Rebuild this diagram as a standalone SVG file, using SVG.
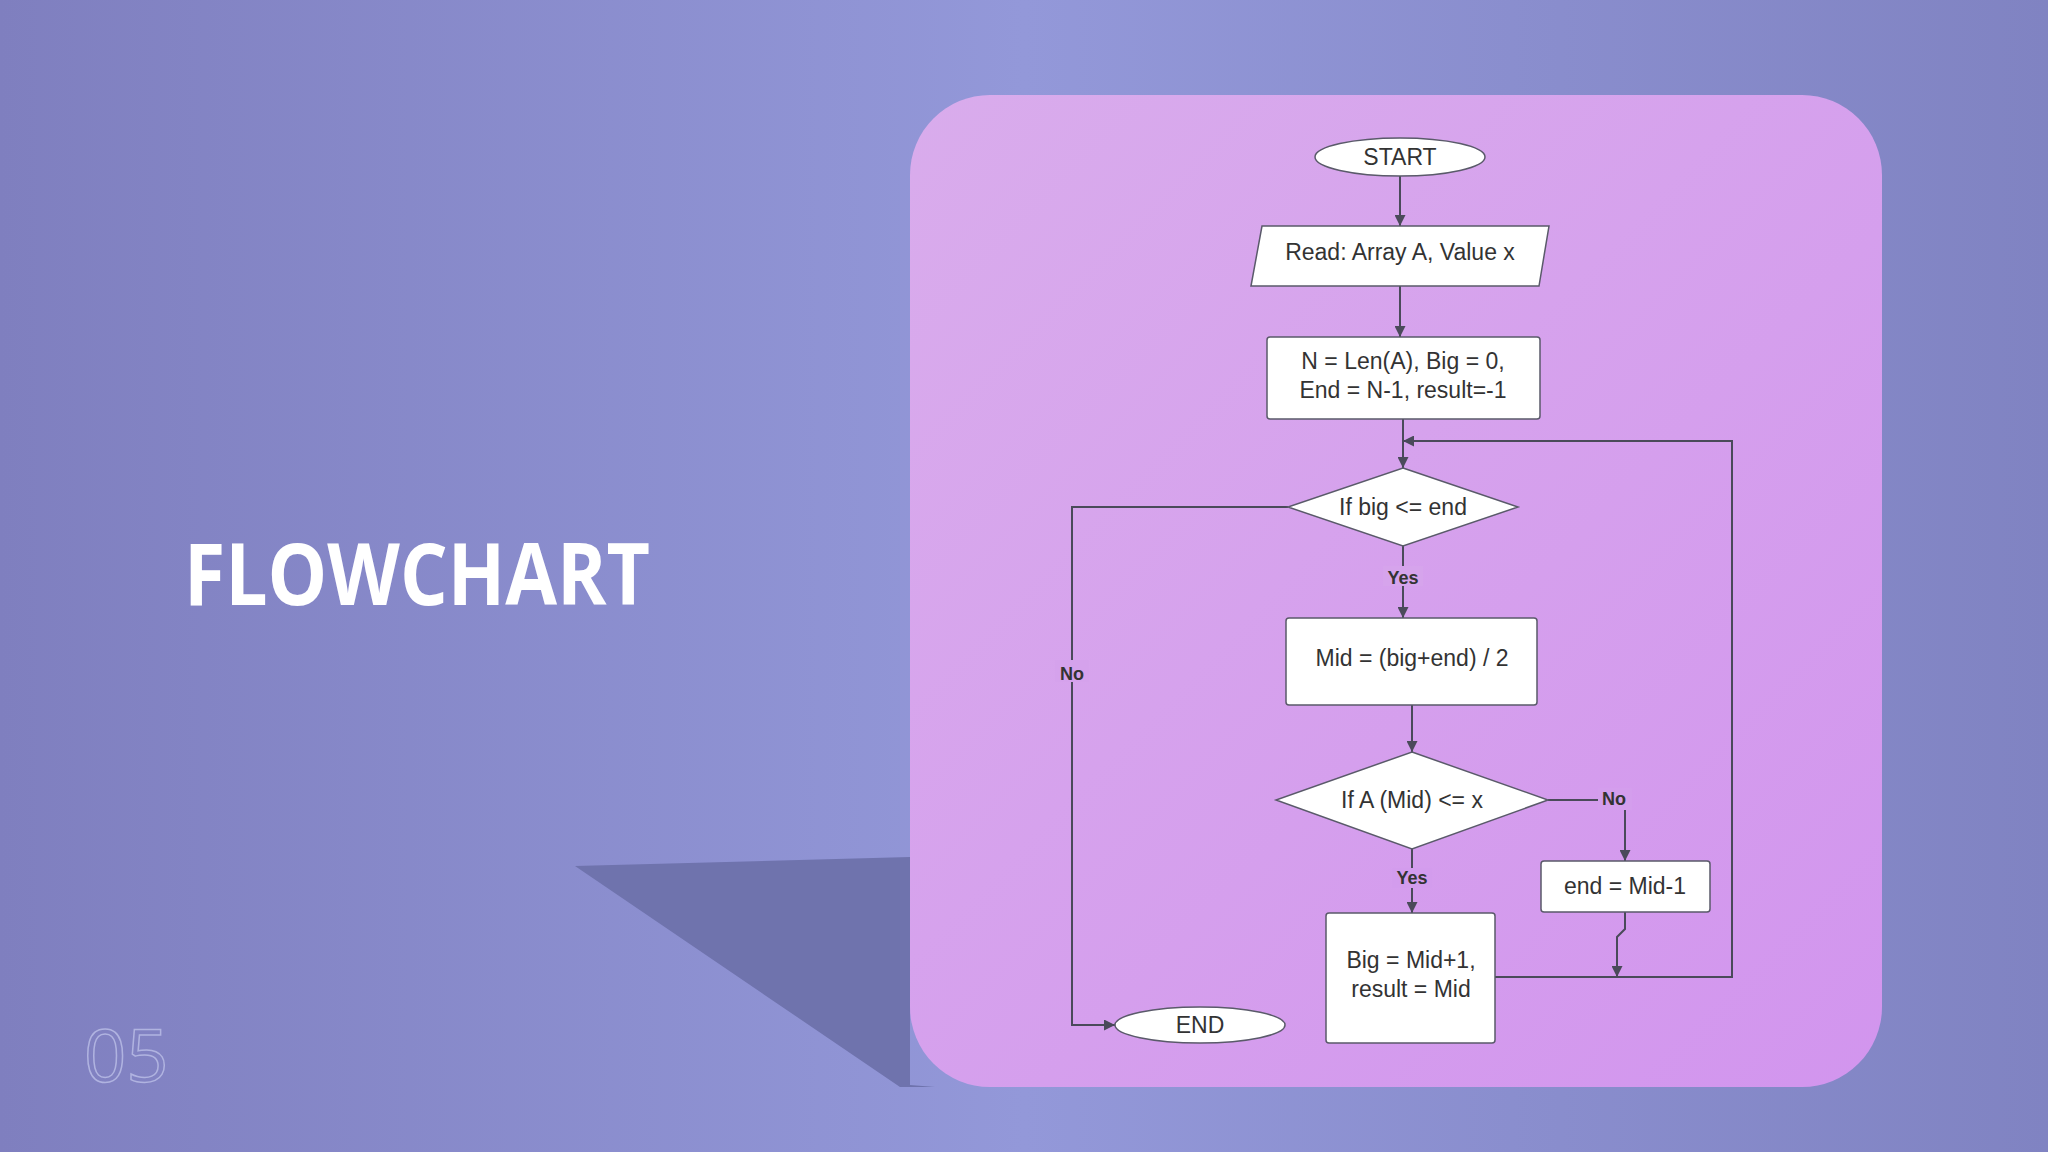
<svg xmlns="http://www.w3.org/2000/svg" width="2048" height="1152" viewBox="0 0 2048 1152">
<defs>
<linearGradient id="bg" x1="0" y1="0" x2="1" y2="0">
<stop offset="0" stop-color="#7f7fbf"/><stop offset="0.5" stop-color="#9398d9"/><stop offset="1" stop-color="#8083c2"/>
</linearGradient>
<linearGradient id="card" x1="0" y1="0" x2="1" y2="1">
<stop offset="0" stop-color="#d9acec"/><stop offset="1" stop-color="#d295ee"/>
</linearGradient>
<marker id="ah" viewBox="0 0 10 10" refX="10" refY="5" markerWidth="12" markerHeight="11" markerUnits="userSpaceOnUse" orient="auto">
<path d="M0,0 L10,5 L0,10 z" fill="#4a4a5a"/>
</marker>
<style>
.n{fill:#fff;stroke:#5a5a6a;stroke-width:1.5}
.t{font-family:"Liberation Sans",Arial,sans-serif;font-size:23px;fill:#333;text-anchor:middle}
.l{font-family:"Liberation Sans",Arial,sans-serif;font-size:18px;font-weight:bold;fill:#333;text-anchor:middle}
.c{fill:none;stroke:#4a4a5a;stroke-width:2}
</style>
</defs>
<rect width="2048" height="1152" fill="url(#bg)"/>
<polygon points="575,866 910,857 910,1085 935,1087 900,1087" fill="#6f73ad"/>
<rect x="910" y="95" width="972" height="992" rx="80" fill="url(#card)"/>
<text x="184" y="605" font-family="'Open Sans',sans-serif" font-weight="700" font-size="86" fill="#fff" textLength="466" lengthAdjust="spacingAndGlyphs">FLOWCHART</text>
<text x="84" y="1082" font-family="'Open Sans',sans-serif" font-size="74" fill="none" stroke="#b0b3e0" stroke-width="1.5">05</text>
<g id="connectors">
<line class="c" x1="1400" y1="176" x2="1400" y2="226" marker-end="url(#ah)"/>
<line class="c" x1="1400" y1="286" x2="1400" y2="337" marker-end="url(#ah)"/>
<line class="c" x1="1403" y1="419" x2="1403" y2="468" marker-end="url(#ah)"/>
<polyline class="c" points="1495,977 1732,977 1732,441 1403,441" marker-end="url(#ah)"/>
<polyline class="c" points="1625,912 1625,929 1617,937 1617,977" marker-end="url(#ah)"/>
<polyline class="c" points="1288,507 1072,507 1072,1025 1115,1025" marker-end="url(#ah)"/>
<line class="c" x1="1403" y1="546" x2="1403" y2="618" marker-end="url(#ah)"/>
<line class="c" x1="1412" y1="705" x2="1412" y2="752" marker-end="url(#ah)"/>
<polyline class="c" points="1548,800 1625,800 1625,861" marker-end="url(#ah)"/>
<line class="c" x1="1412" y1="849" x2="1412" y2="913" marker-end="url(#ah)"/>
<rect x="1055" y="660" width="34" height="22" fill="#d5a2ec"/>
<text class="l" x="1072" y="680">No</text>
<rect x="1383" y="566" width="40" height="20" fill="#d6a4ec"/>
<text class="l" x="1403" y="584">Yes</text>
<rect x="1598" y="788" width="34" height="22" fill="#d49eed"/>
<text class="l" x="1614" y="805">No</text>
<rect x="1392" y="868" width="40" height="20" fill="#d39ced"/>
<text class="l" x="1412" y="884">Yes</text>
</g>
<g id="start"><ellipse class="n" cx="1400" cy="157" rx="85" ry="19"/><text class="t" x="1400" y="165">START</text></g>
<g id="read"><polygon class="n" points="1262,226 1549,226 1539,286 1251,286"/><text class="t" x="1400" y="260">Read: Array A, Value x</text></g>
<g id="init"><rect class="n" x="1267" y="337" width="273" height="82" rx="3"/><text class="t" x="1403" y="369">N = Len(A), Big = 0,</text><text class="t" x="1403" y="398">End = N-1, result=-1</text></g>
<g id="cond1"><polygon class="n" points="1403,468 1518,507 1403,546 1288,507"/><text class="t" x="1403" y="515">If big &lt;= end</text></g>
<g id="mid"><rect class="n" x="1286" y="618" width="251" height="87" rx="3"/><text class="t" x="1412" y="666">Mid = (big+end) / 2</text></g>
<g id="cond2"><polygon class="n" points="1412,752 1548,800 1412,849 1276,800"/><text class="t" x="1412" y="808">If A (Mid) &lt;= x</text></g>
<g id="endupd"><rect class="n" x="1541" y="861" width="169" height="51" rx="3"/><text class="t" x="1625" y="894">end = Mid-1</text></g>
<g id="bigupd"><rect class="n" x="1326" y="913" width="169" height="130" rx="3"/><text class="t" x="1411" y="968">Big = Mid+1,</text><text class="t" x="1411" y="997">result = Mid</text></g>
<g id="end"><ellipse class="n" cx="1200" cy="1025" rx="85" ry="18"/><text class="t" x="1200" y="1033">END</text></g>
</svg>
